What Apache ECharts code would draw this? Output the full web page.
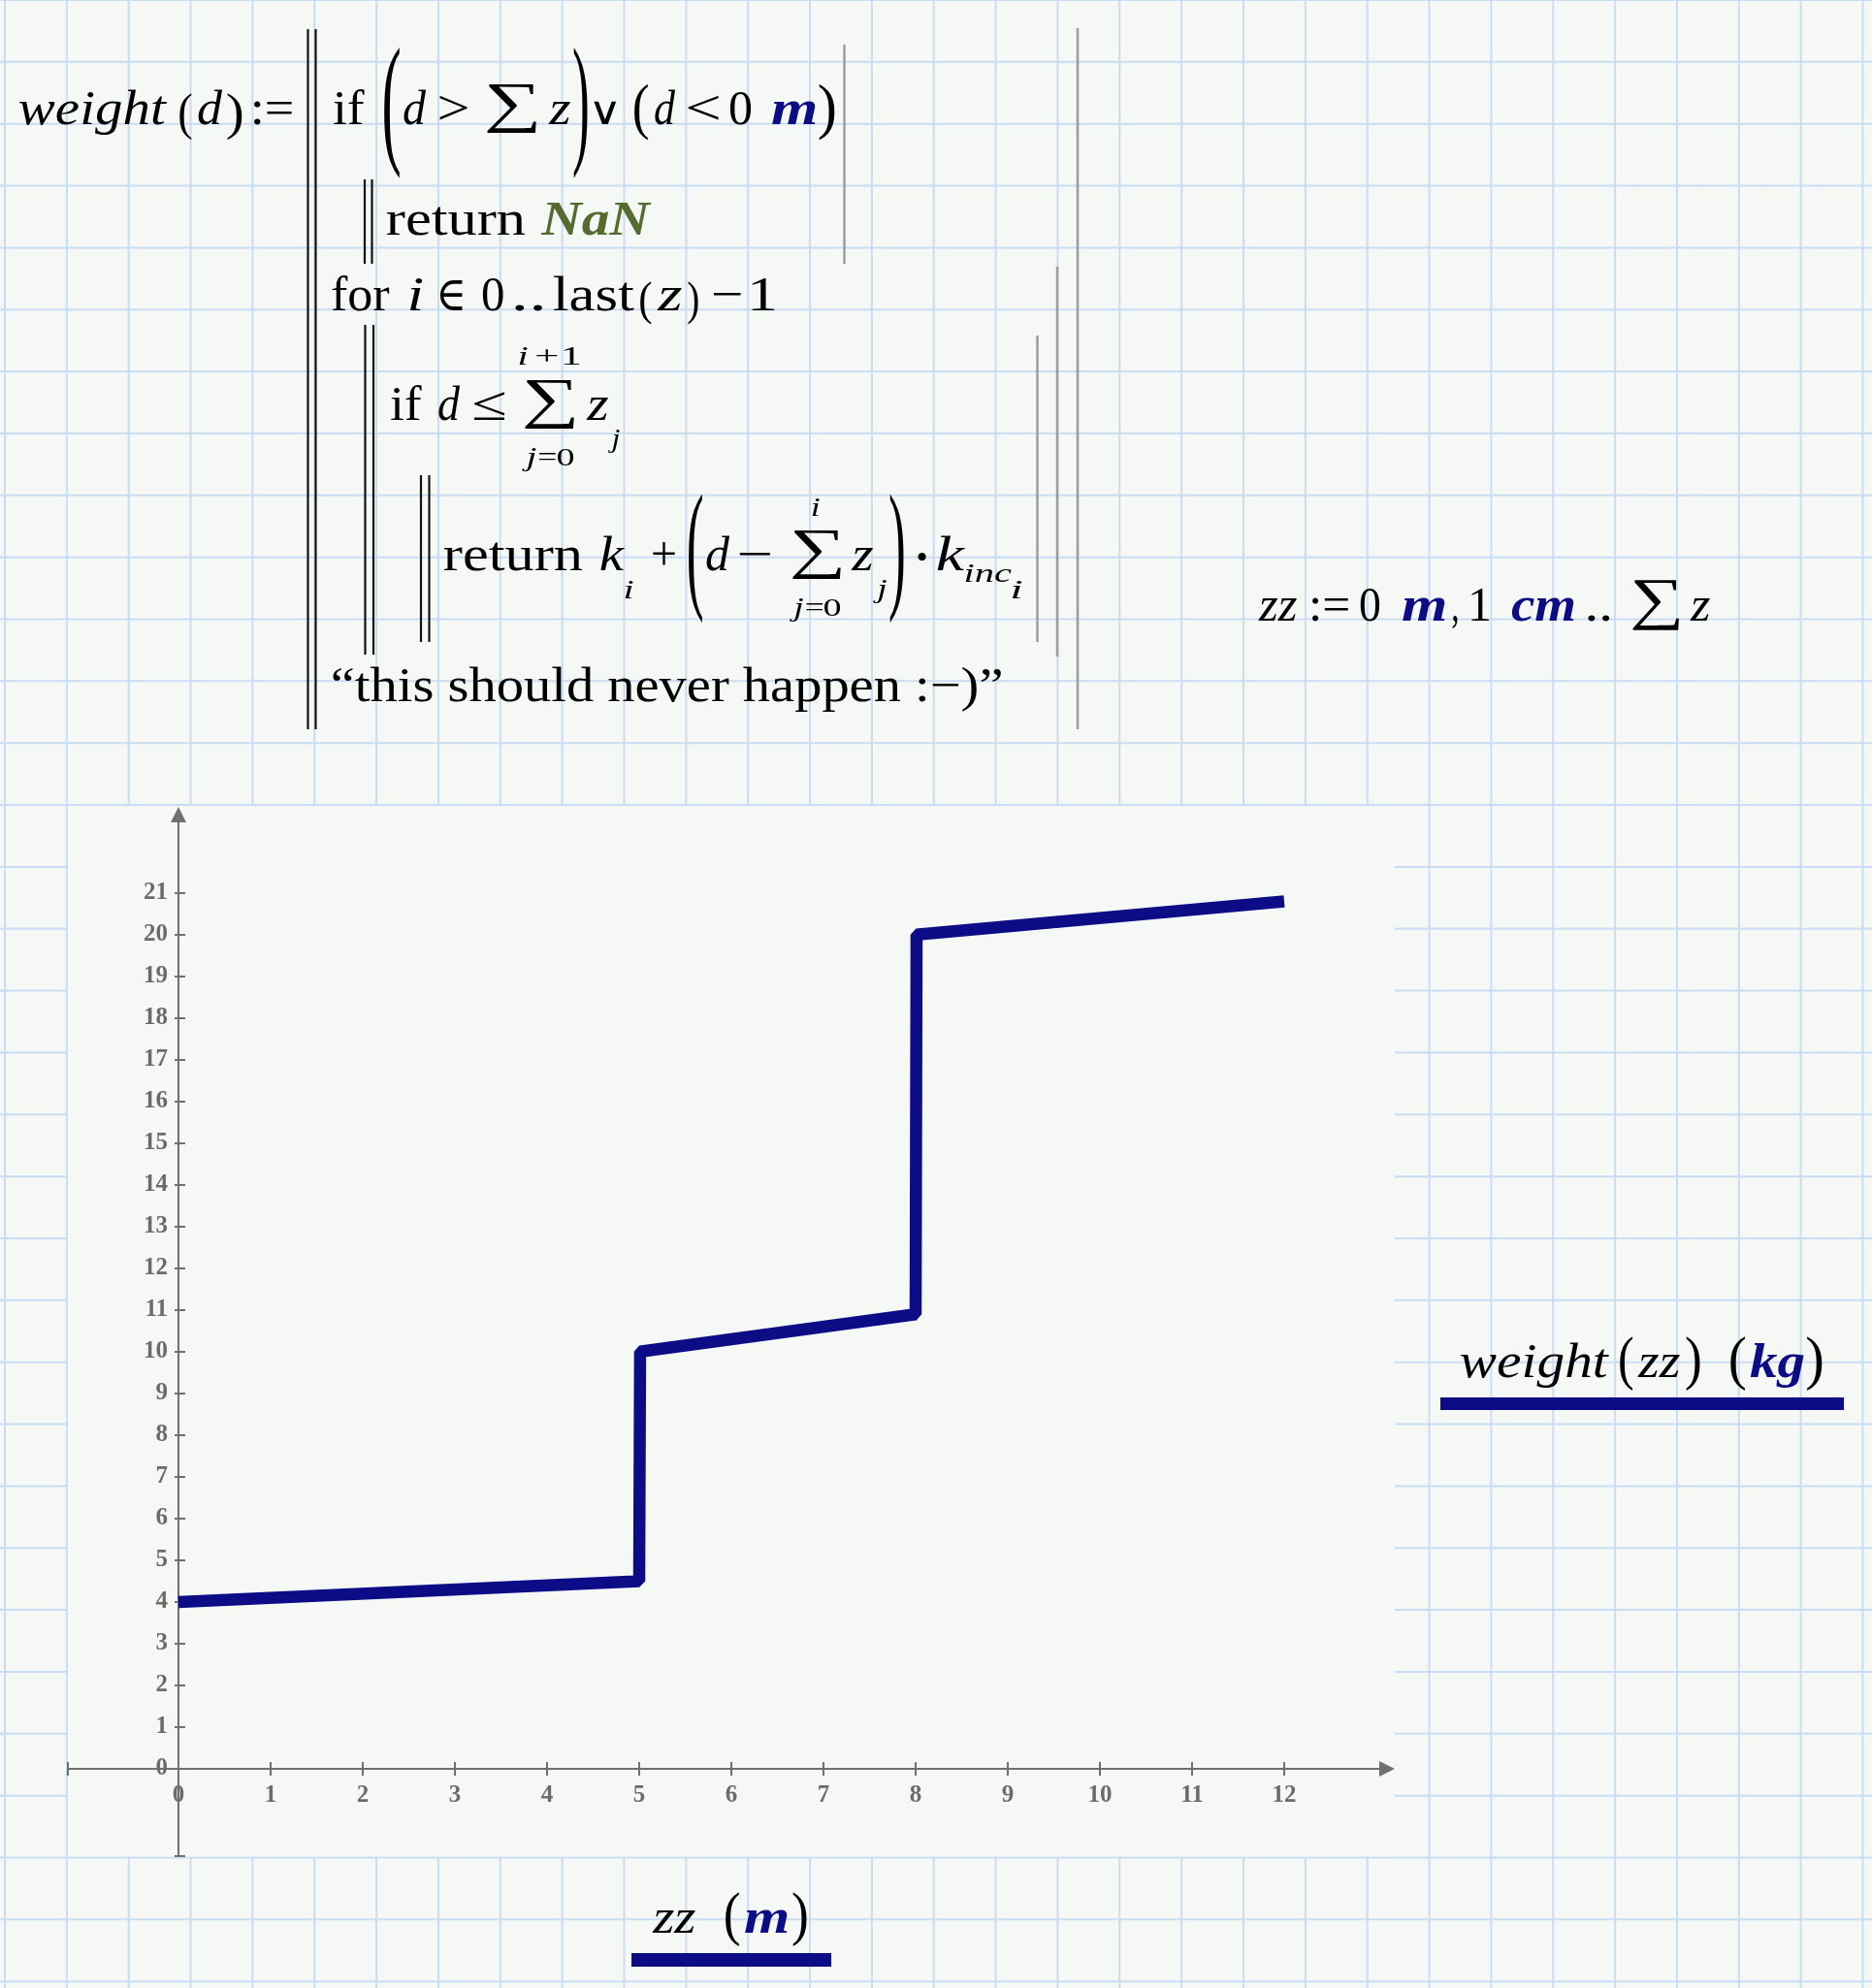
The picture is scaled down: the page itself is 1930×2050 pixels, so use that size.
<!DOCTYPE html>
<html>
<head>
<meta charset="utf-8">
<script src="https://cdn.jsdelivr.net/npm/echarts@6/dist/echarts.min.js"></script>
<style>
html,body{margin:0;padding:0;background:#f6f8f6;}
#chart{width:1930px;height:2050px;}
</style>
</head>
<body>
<div id="chart"></div>
<script>
// ---------- data ----------
const zz = [0, 5, 5.01, 8, 8.01, 12];                 // m
const weightKg = [4.0, 4.5, 10.003, 10.9, 20.002, 20.8]; // kg
const xTickLabels = [0, 1, 2, 3, 4, 5, 6, 7, 8, 9, 10, 11, 12];
const yTickLabels = [0, 1, 2, 3, 4, 5, 6, 7, 8, 9, 10, 11, 12, 13, 14, 15, 16, 17, 18, 19, 20, 21];

// ---------- styling ----------
const FAM = '"Liberation Serif","DejaVu Serif",serif';
const NAVY = '#0c0c86';
const AXIS = '#707070';
const BG = '#f6f8f6';
const GRIDLINE = '#c8dcf4';

const xMin = -1.2, xMax = 13.116, yMin = -2.093, yMax = 22.879;
const GRID = {left: 70, top: 840, width: 1360, height: 1074};
// axes cross at (0,0): shift them from the grid edges to the zero lines
const xAxisOffset = -((0 - yMin) / (yMax - yMin)) * GRID.height;
const yAxisOffset = -((0 - xMin) / (xMax - xMin)) * GRID.width;

const ctx = document.createElement('canvas').getContext('2d');
const KIND = {
  r: {fs: 'normal', fw: 'normal', c: '#000'},
  i: {fs: 'italic', fw: 'normal', c: '#000'},
  u: {fs: 'italic', fw: 'bold', c: NAVY},
  n: {fs: 'italic', fw: 'bold', c: '#556b2f'}
};
function fontOf(kind, size) { const k = KIND[kind]; return k.fs + ' ' + k.fw + ' ' + size + 'px ' + FAM; }
function meas(s, f, bl) { ctx.font = f; ctx.textAlign = 'left'; ctx.textBaseline = bl; return ctx.measureText(s); }
const els = [];
function clamp(v, a, b) { return Math.max(a, Math.min(b, v)); }
// text with ink fitted horizontally to [x0,x1], placed on baseline
function T(s, x0, x1, base, kind, size) {
  kind = kind || 'r'; size = size || 50;
  const f = fontOf(kind, size);
  const mM = meas(s, f, 'middle'), mA = meas(s, f, 'alphabetic');
  const inkL = -mM.actualBoundingBoxLeft, inkR = mM.actualBoundingBoxRight;
  const sx = clamp((x1 - x0) / (inkR - inkL), 0.6, 1.8);
  const mid = mA.actualBoundingBoxAscent - mM.actualBoundingBoxAscent;
  els.push({type: 'text', x: x0 - sx * inkL, y: base - mid, scaleX: sx, scaleY: 1, z: 5, silent: true,
    style: {text: s, x: 0, y: 0, font: f, fill: KIND[kind].c, align: 'left', verticalAlign: 'middle'}});
}
// glyph fitted into a box
function B(s, x0, x1, y0, y1, kind, size) {
  kind = kind || 'r'; size = size || 50;
  const f = fontOf(kind, size);
  const m = meas(s, f, 'middle');
  const inkL = -m.actualBoundingBoxLeft, inkR = m.actualBoundingBoxRight;
  const inkT = -m.actualBoundingBoxAscent, inkB = m.actualBoundingBoxDescent;
  const sx = (x1 - x0) / (inkR - inkL), sy = (y1 - y0) / (inkB - inkT);
  els.push({type: 'text', x: x0 - sx * inkL, y: y0 - sy * inkT, scaleX: sx, scaleY: sy, z: 5, silent: true,
    style: {text: s, x: 0, y: 0, font: f, fill: KIND[kind].c, align: 'left', verticalAlign: 'middle'}});
}
function L(x, y0, y1, color, w) {
  els.push({type: 'line', z: 5, silent: true, shape: {x1: x, y1: y0, x2: x, y2: y1}, style: {stroke: color, lineWidth: w}});
}
function R(x0, y0, x1, y1, color, z) {
  els.push({type: 'rect', z: z == null ? 5 : z, silent: true, shape: {x: x0, y: y0, width: x1 - x0, height: y1 - y0}, style: {fill: color}});
}

// ---------- background worksheet grid ----------
const GS = 63.85;
for (let k = 0; k <= 30; k++) {
  const x = 5 + GS * k;
  els.push({type: 'line', z: -10, silent: true, shape: {x1: x, y1: 0, x2: x, y2: 2050}, style: {stroke: GRIDLINE, lineWidth: 2}});
}
for (let k = 0; k <= 32; k++) {
  const y = GS * k;
  els.push({type: 'line', z: -10, silent: true, shape: {x1: 0, y1: y, x2: 1930, y2: y}, style: {stroke: GRIDLINE, lineWidth: 2}});
}
R(70, 831, 1438, 1914.5, BG, -9);

// ---------- program (formula) ----------
// row 1
T('weight', 20, 172, 128, 'i');
B('(', 185, 198, 95, 145);
T('d', 204, 230, 128, 'i');
B(')', 234, 250, 95, 145);
T(':=', 261, 301, 128);
T('if', 344, 376, 128);
B('(', 396, 413, 45, 185);
T('d', 416, 440, 128, 'i');
T('>', 453, 482, 128);
B('\u2211', 502, 554, 87, 138);
T('z', 565, 588, 128, 'i');
B(')', 591, 606, 45, 185);
B('\u2228', 612, 636, 104, 128);
B('(', 654, 669, 85, 145);
T('d', 675, 697, 128, 'i');
T('<', 709, 741, 128);
T('0', 752, 775, 128);
T('m', 795, 841, 128, 'u');
B(')', 844, 861, 85, 145);
// row 2
T('return', 399, 542, 242);
T('NaN', 557, 672, 242, 'n');
// row 3
T('for', 342, 402, 320);
T('i', 422, 436, 320, 'i');
T('\u2208', 453.5, 476.5, 320);
T('0', 497, 519.5, 320);
T('..', 531, 560, 320);
T('last', 571, 654, 320);
B('(', 660, 672, 290, 335);
T('z', 677, 703, 320, 'i');
B(')', 709, 720, 290, 335);
T('\u2212', 735, 763.5, 320);
T('1', 775, 798, 320);
// row 4
T('if', 403, 435, 433);
T('d', 452, 475, 433, 'i');
T('\u2264', 489, 521, 433);
B('\u2211', 541, 593, 392, 443);
T('z', 604, 627, 433, 'i');
T('j', 627, 639, 461, 'i', 27);
T('i', 535, 544, 376, 'i', 27);
T('+', 552.6, 574.4, 376, 'r', 27);
T('1', 581, 597.4, 376, 'r', 27);
T('j', 538, 552.6, 480, 'i', 27);
T('=', 555.5, 572.7, 480, 'r', 27);
B('0', 575, 592, 463, 480, 'r', 27);
// row 5
T('return', 458, 601, 588);
T('k', 619, 644, 588, 'i');
T('i', 644, 653, 617, 'i', 27);
T('+', 673, 696, 588);
B('(', 710, 725, 505, 643);
T('d', 728, 753, 588, 'i');
T('\u2212', 762, 794, 588);
B('\u2211', 817, 868, 547, 598);
T('i', 837, 845, 532, 'i', 27);
T('j', 814, 828, 635, 'i', 27);
T('=', 831, 848, 635, 'r', 27);
B('0', 850, 867, 618, 635, 'r', 27);
T('z', 877, 900, 588, 'i');
T('j', 900, 914, 616, 'i', 27);
B(')', 917, 932, 505, 643);
B('\u2022', 946, 955, 570, 579);
T('k', 966, 995, 588, 'i');
T('inc', 995, 1043, 600, 'i', 27);
T('i', 1043, 1055, 617, 'i', 27);
// row 6
T('\u201Cthis should never happen :\u2212)\u201D', 343, 1032, 723);
// program bars
const BLK = '#111';
L(317.5, 30, 752, BLK, 2.2); L(325.5, 30, 752, BLK, 2.2);
L(376, 185, 272, BLK, 2.2); L(383.5, 185, 272, BLK, 2.2);
L(376.5, 335, 675, BLK, 2.2); L(385, 335, 675, BLK, 2.2);
L(434, 490, 662, BLK, 2.2); L(442.5, 490, 662, BLK, 2.2);
const GRY = '#9c9c9c';
L(870.5, 46, 272, GRY, 2.5); L(1111, 29, 752, GRY, 2.5);
L(1090, 275, 677, GRY, 2.5); L(1069.5, 346, 662, GRY, 2.5);

// range definition
T('zz', 1297, 1337, 640, 'i');
T(':=', 1352, 1390, 640);
T('0', 1402, 1423, 640);
T('m', 1445, 1490, 640, 'u');
T(',', 1497, 1503, 640);
T('1', 1517, 1535, 640);
T('cm', 1558, 1623, 640, 'u');
T('..', 1637, 1660, 640);
B('\u2211', 1683, 1732, 598, 650);
T('z', 1742, 1763, 640, 'i');

// axis titles with trace bars
T('zz', 672, 717, 1993, 'i');
B('(', 748, 763, 1950, 2008);
T('m', 767, 812, 1993, 'u');
B(')', 817, 832, 1950, 2008);
R(651, 2014, 857, 2028, NAVY);

T('weight', 1506, 1659, 1420, 'i');
B('(', 1670, 1684, 1377, 1435);
T('zz', 1688, 1732, 1420, 'i');
B(')', 1738, 1753, 1377, 1435);
B('(', 1784, 1800, 1377, 1435);
T('kg', 1804, 1860, 1420, 'u');
B(')', 1862.5, 1879, 1377, 1435);
R(1485, 1441, 1901, 1454, NAVY);

// ---------- chart ----------
const labelStyle = {fontFamily: FAM, fontSize: 25, fontWeight: 'bold', color: '#6b6b6b'};
const tickLine = {color: AXIS, width: 2};
const chart = echarts.init(document.getElementById('chart'));
chart.setOption({
  animation: false,
  backgroundColor: BG,
  grid: {left: GRID.left, top: GRID.top, width: GRID.width, height: GRID.height, containLabel: false, outerBoundsMode: 'none'},
  xAxis: [
    {type: 'value', min: xMin, max: xMax, position: 'bottom', offset: xAxisOffset,
     axisLine: {show: true, onZero: false, symbol: ['none', 'triangle'], symbolSize: [16, 16], lineStyle: {color: AXIS, width: 2}},
     axisTick: {show: true, inside: false, length: 7, customValues: [xMin].concat(xTickLabels), lineStyle: tickLine},
     axisLabel: Object.assign({show: true, customValues: xTickLabels, margin: 15}, labelStyle),
     splitLine: {show: false}},
    {type: 'value', min: xMin, max: xMax, position: 'bottom', offset: xAxisOffset,
     axisLine: {show: false, onZero: false},
     axisTick: {show: true, inside: true, length: 7, customValues: [xMin].concat(xTickLabels), lineStyle: tickLine},
     axisLabel: {show: false}, splitLine: {show: false}}
  ],
  yAxis: [
    {type: 'value', min: yMin, max: yMax, position: 'left', offset: yAxisOffset,
     axisLine: {show: true, onZero: false, symbol: ['none', 'triangle'], symbolSize: [16, 16], lineStyle: {color: AXIS, width: 2}},
     axisTick: {show: true, inside: true, length: 7, customValues: [yMin].concat(yTickLabels), lineStyle: tickLine},
     axisLabel: Object.assign({show: true, customValues: yTickLabels, margin: 11}, labelStyle),
     splitLine: {show: false}},
    {type: 'value', min: yMin, max: yMax, position: 'left', offset: yAxisOffset,
     axisLine: {show: false, onZero: false},
     axisTick: {show: true, inside: false, length: 4, customValues: [yMin].concat(yTickLabels), lineStyle: tickLine},
     axisLabel: {show: false}, splitLine: {show: false}}
  ],
  graphic: {elements: els},
  series: [{
    type: 'line', xAxisIndex: 0, yAxisIndex: 0,
    data: zz.map(function (x, i) { return [x, weightKg[i]]; }),
    showSymbol: false, symbol: 'none', clip: false, z: 3,
    lineStyle: {color: NAVY, width: 12.5, join: 'bevel', cap: 'butt'}
  }]
});
</script>
</body>
</html>
